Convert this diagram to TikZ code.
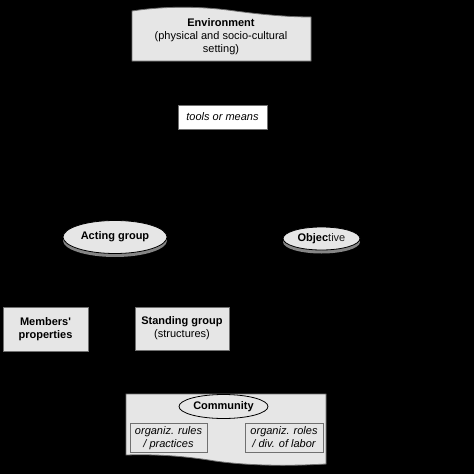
\documentclass[tikz,border=0pt]{standalone}
\usepackage{fontspec}
\setmainfont{Liberation Sans}
\usetikzlibrary{shapes.geometric,shadows}
\definecolor{boxfill}{HTML}{E6E6E6}
\definecolor{boxedge}{HTML}{707070}
\definecolor{shadowgray}{HTML}{858585}
\begin{document}
\begin{tikzpicture}[x=1pt,y=-1pt,
  txt/.style={font=\fontsize{11}{13}\selectfont, align=center, inner sep=0pt},
  rectbox/.style={draw=boxedge, line width=0.8pt, fill=boxfill, align=center,
     font=\fontsize{11}{13}\selectfont, inner sep=0pt},
  ovalnode/.style={ellipse, draw=black, line width=0.8pt, fill=boxfill,
     font=\fontsize{11}{13}\selectfont\bfseries, inner sep=0pt,
     drop shadow={shadow xshift=0pt, shadow yshift=-3.5pt, fill=shadowgray, opacity=1}},
  innerbox/.style={draw=boxedge, line width=0.8pt, fill=boxfill, align=center,
     font=\fontsize{11}{13}\selectfont\itshape, inner sep=0pt}
]
\fill[black] (0,0) rectangle (474,474);
\useasboundingbox (0,0) rectangle (474,474);

% Environment (wavy top)
\draw[boxedge, line width=0.8pt, fill=boxfill]
  (132,11) .. controls (165,6) and (200,6) .. (235,11)
  .. controls (265,15) and (290,17) .. (311,17) -- (311,61) -- (132,61) -- cycle;
\node[txt] (env) at (221,36.5) {\textbf{Environment}\\(physical and socio-cultural\\setting)};

% tools or means
\node[draw=boxedge, line width=0.8pt, fill=white, minimum width=89pt, minimum height=24pt,
      inner sep=0pt, font=\fontsize{11}{13}\selectfont\itshape] (tools) at (222.5,117) {tools or means};

% Ellipses
\node[ovalnode, minimum width=104pt, minimum height=33pt] (acting) at (115,237) {Acting group};
\node[ovalnode, minimum width=77pt, minimum height=23pt] (obj) at (321.5,238.5) {Objec\textmd{\color{black!90}tive}};

% Members' properties and Standing group
\node[rectbox, minimum width=85pt, minimum height=44pt] (members) at (45.5,329)
  {\textbf{Members\textquotesingle}\\\textbf{properties}};
\node[rectbox, minimum width=94pt, minimum height=43pt] (standing) at (182,328.5)
  {\textbf{Standing group}\\(structures)};

% Community (wavy bottom)
\draw[boxedge, line width=0.8pt, fill=boxfill]
  (126,394) -- (326,394) -- (326,464)
  .. controls (290,466) and (250,466) .. (215,461)
  .. controls (185,456) and (155,454) .. (126,455) -- cycle;
\node[ellipse, draw=black, line width=0.8pt, fill=boxfill, minimum width=89pt, minimum height=24pt,
      inner sep=0pt, font=\fontsize{11}{13}\selectfont\bfseries] (comm) at (223.5,406.5) {Community};
\node[innerbox, minimum width=77pt, minimum height=29pt] (rules) at (168.5,438)
  {organiz. rules\\/ practices};
\node[innerbox, minimum width=78pt, minimum height=29pt] (roles) at (284,437.5)
  {organiz. roles\\/ div. of labor};
\end{tikzpicture}
\end{document}
